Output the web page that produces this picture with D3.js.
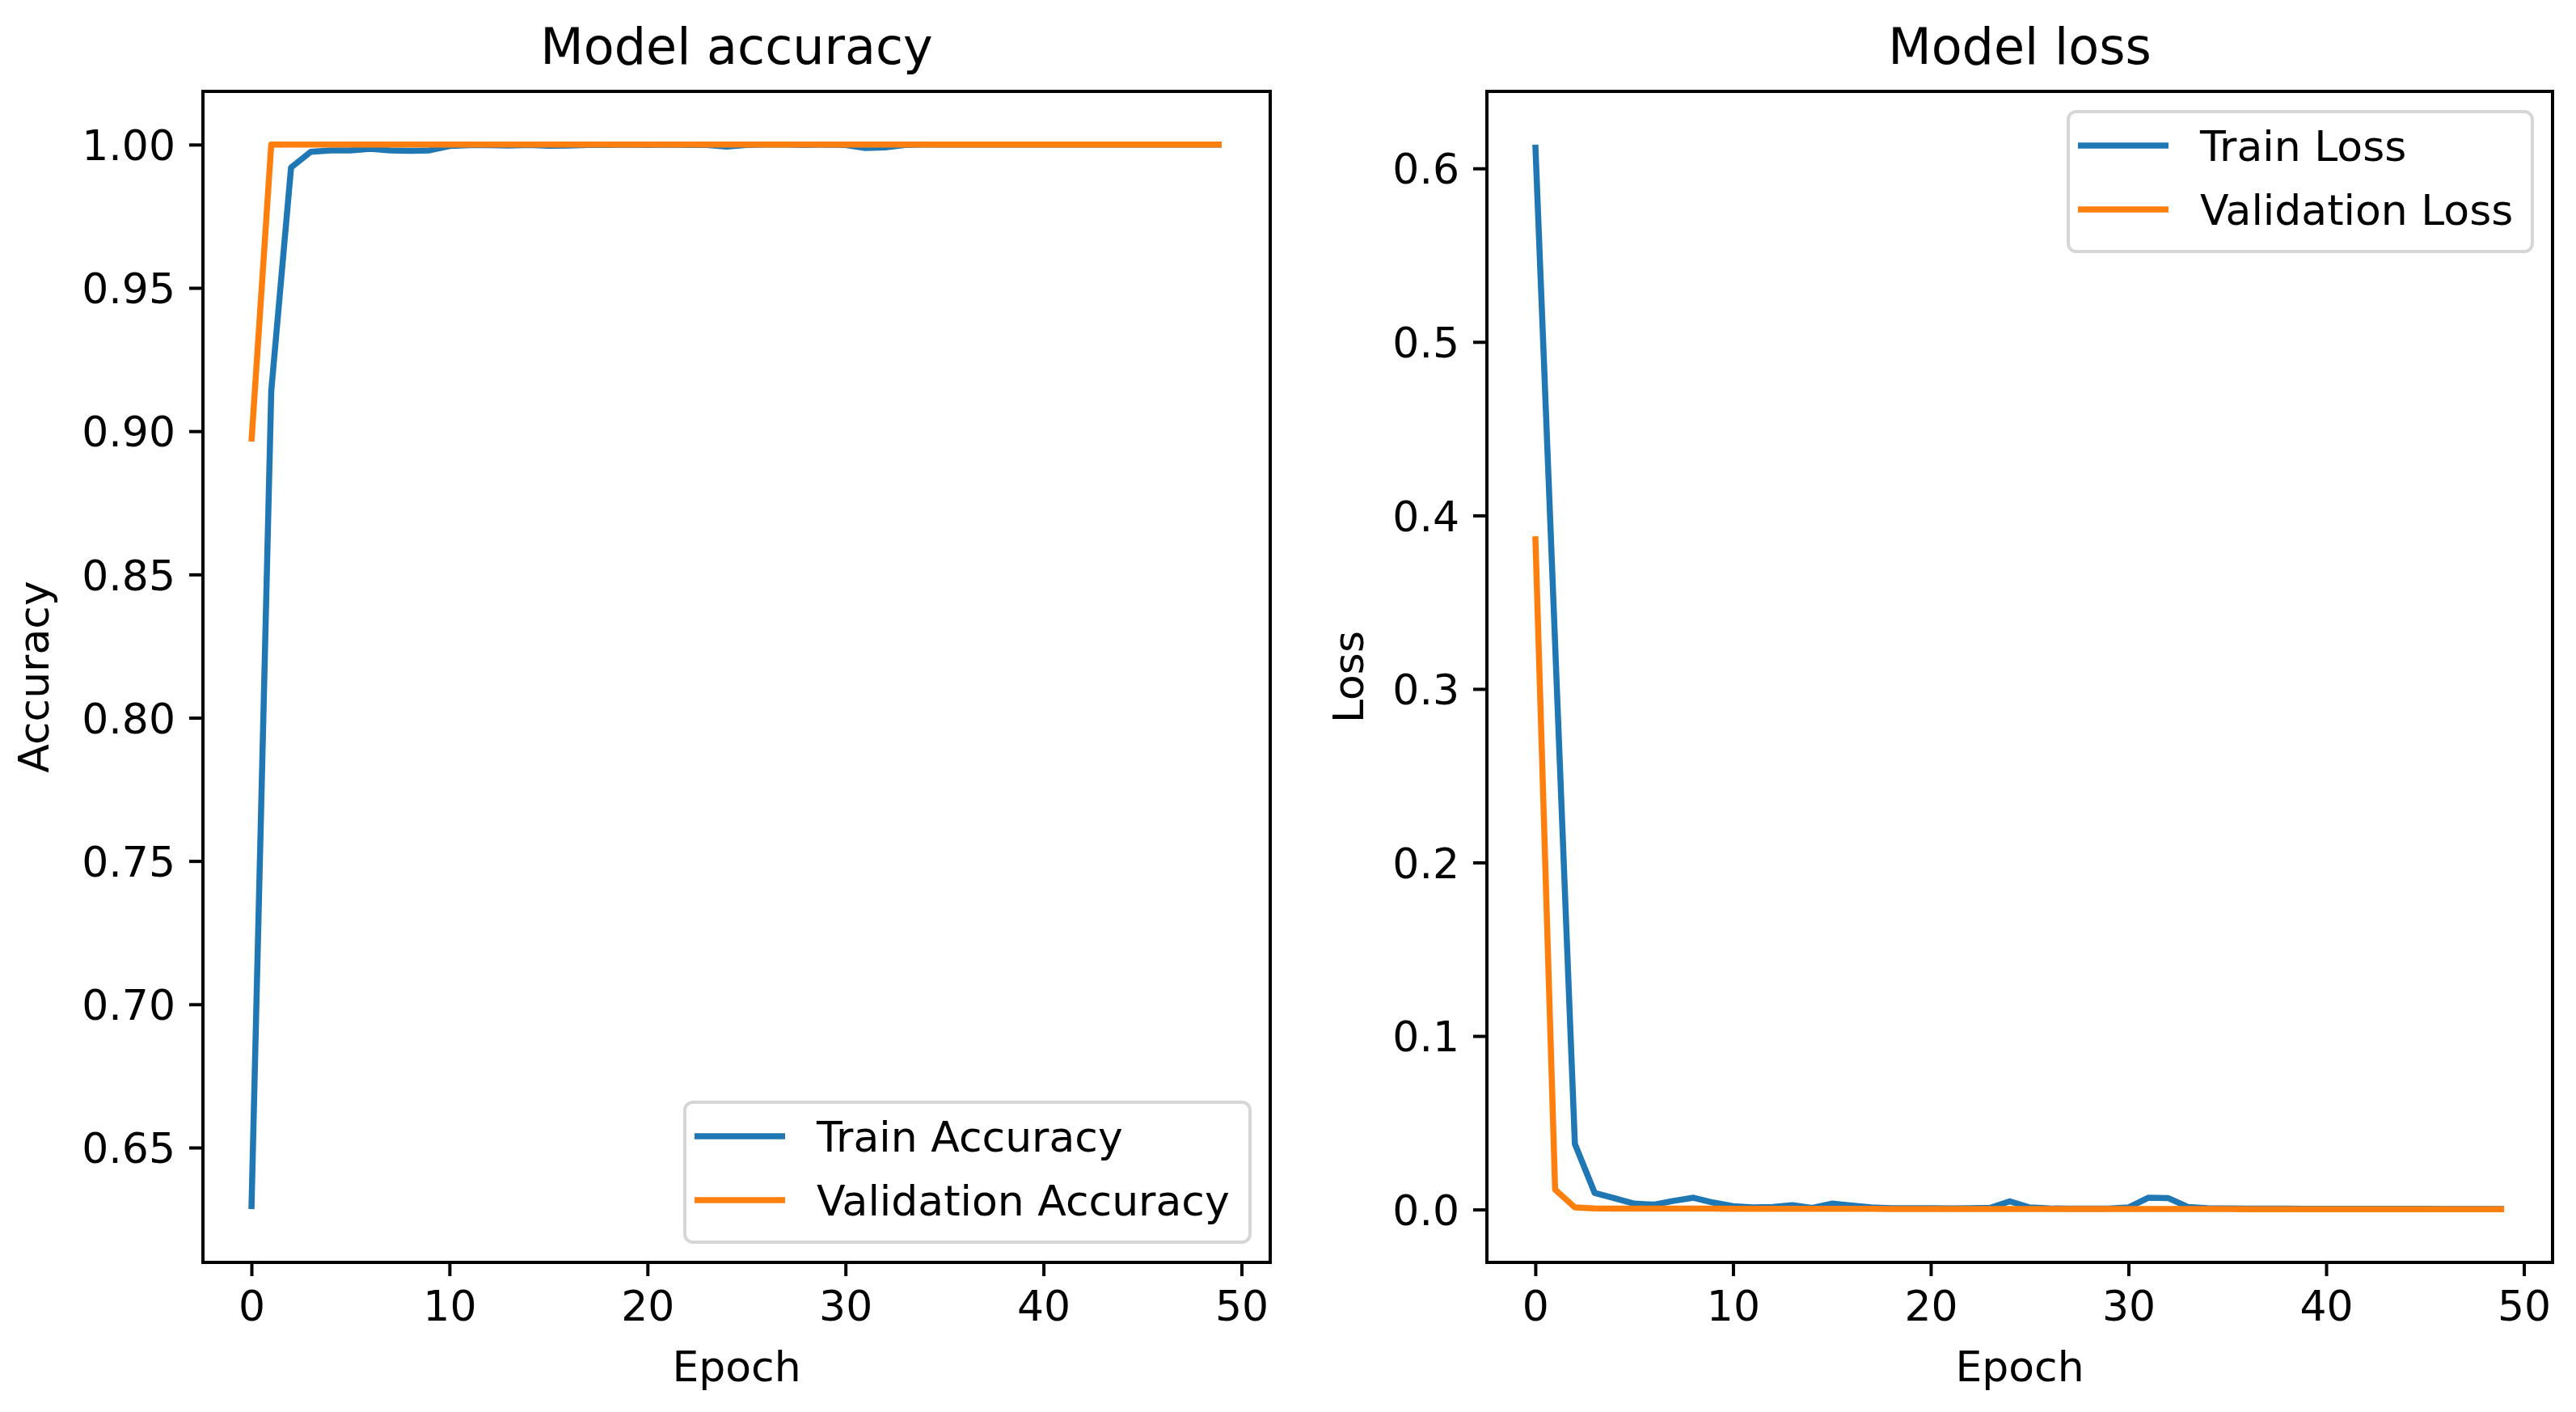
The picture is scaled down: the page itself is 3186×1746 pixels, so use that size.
<!DOCTYPE html>
<html>
<head>
<meta charset="utf-8">
<script src="https://cdn.jsdelivr.net/npm/d3@7"></script>
<style>
  html, body { margin: 0; padding: 0; background: #ffffff; }
  svg { display: block; }
  text { font-family: "DejaVu Sans", sans-serif; fill: #000; }
</style>
</head>
<body>
<svg id="chart" width="3186" height="1746"></svg>
<script>
// ---------------- data ----------------
const epochs = d3.range(0, 50);

const trainAccuracy = [
  0.6285, 0.914, 0.992, 0.9975, 0.998, 0.998, 0.9985, 0.998, 0.9978, 0.998,
  0.9995, 0.9998, 0.9998, 0.9997, 0.9999, 0.9996, 0.9997, 0.9999, 0.9999, 1.0,
  0.9999, 1.0, 0.9999, 0.9999, 0.9993, 0.9999, 1.0, 1.0, 0.9999, 1.0,
  0.9999, 0.9988, 0.999, 0.9999, 1.0, 1.0, 1.0, 1.0, 1.0, 1.0,
  1.0, 1.0, 1.0, 1.0, 1.0, 1.0, 1.0, 1.0, 1.0, 1.0
];
const valAccuracy = [
  0.8964, 1.0, 1.0, 1.0, 1.0, 1.0, 1.0, 1.0, 1.0, 1.0,
  1.0, 1.0, 1.0, 1.0, 1.0, 1.0, 1.0, 1.0, 1.0, 1.0,
  1.0, 1.0, 1.0, 1.0, 1.0, 1.0, 1.0, 1.0, 1.0, 1.0,
  1.0, 1.0, 1.0, 1.0, 1.0, 1.0, 1.0, 1.0, 1.0, 1.0,
  1.0, 1.0, 1.0, 1.0, 1.0, 1.0, 1.0, 1.0, 1.0, 1.0
];
const trainLoss = [
  0.6137, 0.326, 0.0378, 0.0096, 0.0065, 0.0034, 0.0028, 0.005, 0.0068, 0.004,
  0.0019, 0.0012, 0.0015, 0.0025, 0.0009, 0.0034, 0.0023, 0.0012, 0.0008, 0.0007,
  0.0008, 0.0006, 0.0007, 0.001, 0.0047, 0.0012, 0.0006, 0.0005, 0.0005, 0.0005,
  0.0012, 0.0068, 0.0066, 0.0015, 0.0008, 0.0006, 0.0005, 0.0005, 0.0005, 0.0004,
  0.0004, 0.0004, 0.0004, 0.0004, 0.0004, 0.0004, 0.0003, 0.0003, 0.0003, 0.0003
];
const valLoss = [
  0.388, 0.0115, 0.0012, 0.0006, 0.0005, 0.0005, 0.0005, 0.0005, 0.0005, 0.0005,
  0.0004, 0.0004, 0.0004, 0.0004, 0.0004, 0.0004, 0.0004, 0.0004, 0.0003, 0.0003,
  0.0003, 0.0003, 0.0003, 0.0003, 0.0003, 0.0003, 0.0003, 0.0003, 0.0003, 0.0003,
  0.0003, 0.0003, 0.0003, 0.0003, 0.0003, 0.0003, 0.0002, 0.0002, 0.0002, 0.0002,
  0.0002, 0.0002, 0.0002, 0.0002, 0.0002, 0.0002, 0.0002, 0.0002, 0.0002, 0.0002
];

const xTicks = [0, 10, 20, 30, 40, 50];
const accTicks = [0.65, 0.70, 0.75, 0.80, 0.85, 0.90, 0.95, 1.00];
const lossTicks = [0.0, 0.1, 0.2, 0.3, 0.4, 0.5, 0.6];

const titles = ["Model accuracy", "Model loss"];
const yLabels = ["Accuracy", "Loss"];
const xLabel = "Epoch";
const accLegend = ["Train Accuracy", "Validation Accuracy"];
const lossLegend = ["Train Loss", "Validation Loss"];
const colors = ["#1f77b4", "#ff7f0e"];

// ---------------- layout ----------------
const svg = d3.select("#chart");
const FS = 52;           // 10pt
const TITLE_FS = 62;     // 12pt
const LW = 7.5;          // line width
const SPINE = 4;
const TICK_LEN = 17;

function padded(vals) {
  const lo = d3.min(vals), hi = d3.max(vals);
  const r = hi - lo;
  return [lo - 0.05 * r, hi + 0.05 * r];
}

const panels = [
  {
    box: {left: 251, right: 1571, top: 113, bottom: 1561},
    series: [trainAccuracy, valAccuracy],
    yTicks: accTicks, fmt: d3.format(".2f"),
    title: titles[0], ylabel: yLabels[0], ylabelX: 60,
    legend: accLegend, legendPos: "lower right"
  },
  {
    box: {left: 1839, right: 3157, top: 113, bottom: 1561},
    series: [trainLoss, valLoss],
    yTicks: lossTicks, fmt: d3.format(".1f"),
    title: titles[1], ylabel: yLabels[1], ylabelX: 1686,
    legend: lossLegend, legendPos: "upper right"
  }
];

panels.forEach(p => {
  const b = p.box;
  const x = d3.scaleLinear().domain(padded(epochs)).range([b.left, b.right]);
  const allY = p.series[0].concat(p.series[1]);
  const y = d3.scaleLinear().domain(padded(allY)).range([b.bottom, b.top]);

  const g = svg.append("g");

  // lines
  const line = d3.line().x((d, i) => x(epochs[i])).y(d => y(d));
  p.series.forEach((s, k) => {
    g.append("path")
      .datum(s)
      .attr("d", line)
      .attr("fill", "none")
      .attr("stroke", colors[k])
      .attr("stroke-width", LW)
      .attr("stroke-linejoin", "round")
      .attr("stroke-linecap", "butt");
  });

  // x axis
  const xAxis = d3.axisBottom(x).tickValues(xTicks).tickSizeInner(TICK_LEN).tickSizeOuter(0)
    .tickPadding(17).tickFormat(d3.format("d"));
  const gx = g.append("g").attr("transform", `translate(0,${b.bottom})`).call(xAxis);
  gx.select(".domain").remove();
  gx.selectAll(".tick line").attr("stroke", "#000").attr("stroke-width", SPINE);
  gx.selectAll(".tick text").attr("font-size", FS).attr("font-family", "DejaVu Sans")
    .attr("dy", "0.73em").attr("fill", "#000");

  // y axis
  const yAxis = d3.axisLeft(y).tickValues(p.yTicks).tickSizeInner(TICK_LEN).tickSizeOuter(0)
    .tickPadding(17).tickFormat(p.fmt);
  const gy = g.append("g").attr("transform", `translate(${b.left},0)`).call(yAxis);
  gy.select(".domain").remove();
  gy.selectAll(".tick line").attr("stroke", "#000").attr("stroke-width", SPINE);
  gy.selectAll(".tick text").attr("font-size", FS).attr("font-family", "DejaVu Sans")
    .attr("dy", "0.36em").attr("fill", "#000");

  // frame (spines)
  g.append("rect")
    .attr("x", b.left).attr("y", b.top)
    .attr("width", b.right - b.left).attr("height", b.bottom - b.top)
    .attr("fill", "none").attr("stroke", "#000").attr("stroke-width", SPINE);

  // title
  g.append("text")
    .attr("x", (b.left + b.right) / 2).attr("y", 79)
    .attr("text-anchor", "middle").attr("font-size", TITLE_FS)
    .text(p.title);

  // x label
  g.append("text")
    .attr("x", (b.left + b.right) / 2).attr("y", 1708)
    .attr("text-anchor", "middle").attr("font-size", FS)
    .text(xLabel);

  // y label
  g.append("text")
    .attr("transform", `translate(${p.ylabelX},${(b.top + b.bottom) / 2}) rotate(-90)`)
    .attr("text-anchor", "middle").attr("font-size", FS)
    .text(p.ylabel);

  // legend
  const LWID = p.legendPos === "lower right" ? 699 : 574;
  const LHT = 173;
  const lx = b.right - 25 - LWID;
  const ly = p.legendPos === "lower right" ? b.bottom - 25 - LHT : b.top + 25;
  const lg = g.append("g").attr("transform", `translate(${lx},${ly})`);
  lg.append("rect")
    .attr("x", 0).attr("y", 0).attr("width", LWID).attr("height", LHT)
    .attr("rx", 10).attr("ry", 10)
    .attr("fill", "#ffffff").attr("fill-opacity", 0.8)
    .attr("stroke", "#d6d6d6").attr("stroke-width", 4);
  p.legend.forEach((lab, k) => {
    const ry = 42 + k * 79;
    lg.append("line")
      .attr("x1", 12).attr("x2", 124).attr("y1", ry).attr("y2", ry)
      .attr("stroke", colors[k]).attr("stroke-width", LW);
    lg.append("text")
      .attr("x", 163).attr("y", ry).attr("dy", "0.36em")
      .attr("font-size", FS)
      .text(lab);
  });
});
</script>
</body>
</html>
